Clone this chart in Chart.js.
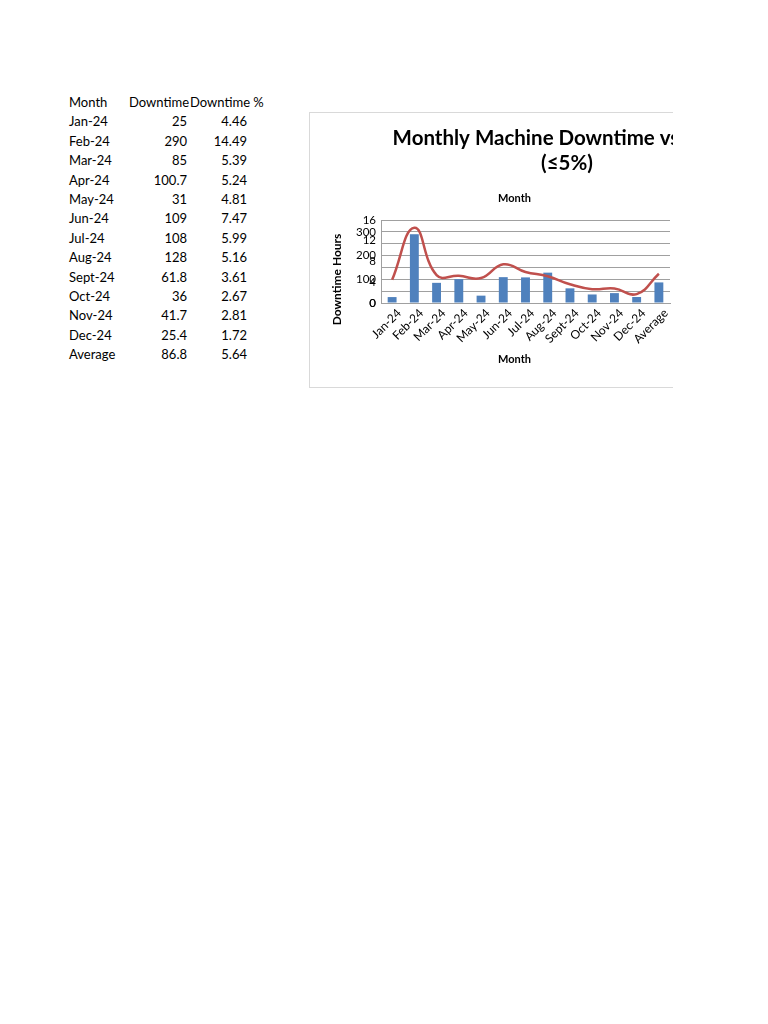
<!DOCTYPE html>
<html>
<head>
<meta charset="utf-8">
<script src="https://cdn.jsdelivr.net/npm/chart.js@4"></script>
<style>
  body { margin: 0; background: #fff; font-family: Lato, "Open Sans", sans-serif; }
  #sheet { position: absolute; left: 66px; top: 93px; border-collapse: collapse; table-layout: fixed;
           width: 184px; font-size: 13px; color: #000; }
  #sheet td { padding: 0; height: 19.4px; line-height: 19.4px; white-space: nowrap; overflow: visible; }
  #sheet td.c1 { padding-left: 3px; }
  #sheet td.c2 { text-align: right; padding-right: 1px; }
  #sheet td.c3 { text-align: right; padding-right: 3px; }
  #sheet td.h2 { padding-left: 3px; }
  #sheet td.h3 { padding-left: 2px; }
  #box { position: absolute; left: 309px; top: 112px; width: 363px; height: 274px;
         border: 1px solid #d9d9d9; border-right: none; overflow: hidden; background: #fff; }
  #chart { position: absolute; left: 0; top: 0; }
</style>
</head>
<body>
<table id="sheet"></table>
<div id="box"><canvas id="chart" width="514" height="274"></canvas></div>
<script>
// sheet / chart data
const months = ['Jan-24', 'Feb-24', 'Mar-24', 'Apr-24', 'May-24', 'Jun-24', 'Jul-24',
                'Aug-24', 'Sept-24', 'Oct-24', 'Nov-24', 'Dec-24', 'Average'];
const downtimeHours = [25, 290, 85, 100.7, 31, 109, 108, 128, 61.8, 36, 41.7, 25.4, 86.8];
const downtimePct = ['4.46', '14.49', '5.39', '5.24', '4.81', '7.47', '5.99',
                     '5.16', '3.61', '2.67', '2.81', '1.72', '5.64'];
const headers = ['Month', 'Downtime', 'Downtime %'];

// Build the spreadsheet table
function buildTable() {
    const table = document.getElementById('sheet');
    let html = '<colgroup><col style="width:60px"><col style="width:62px"><col style="width:62px"></colgroup>';
    html += `<tr><td class="c1">${headers[0]}</td><td class="h2">${headers[1]}</td><td class="h3">${headers[2]}</td></tr>`;
    months.forEach((m, i) => {
        html += `<tr><td class="c1">${m}</td><td class="c2">${downtimeHours[i]}</td><td class="c3">${downtimePct[i]}</td></tr>`;
    });
    table.innerHTML = html;
}
buildTable();

const font = 'Lato';
const gridColor = '#a0a0a0';
const tickFont = { family: font, size: 11.5 };
const axisTitleFont = { family: font, size: 11, weight: 'bold' };
// en spaces push the axis titles off-centre like the original
const pad = n => '\u2002'.repeat(n);

// width of the widest % label, so the mirrored labels line up with the hours labels
const measure = document.createElement('canvas').getContext('2d');
measure.font = `${tickFont.size}px ${font}`;
const widestPct = measure.measureText('16').width;

const ctx = document.getElementById('chart').getContext('2d');
new Chart(ctx, {
    data: {
        labels: months,
        datasets: [{
            type: 'line',
            label: 'Downtime %',
            data: downtimePct.map(Number),
            yAxisID: 'y1',
            borderColor: '#c0504d',
            borderWidth: 2.5,
            pointRadius: 0,
            tension: 0.45,
            fill: false,
            order: 0
        }, {
            type: 'bar',
            label: 'Downtime',
            data: downtimeHours,
            yAxisID: 'y',
            backgroundColor: '#4f81bd',
            categoryPercentage: 0.8,
            barPercentage: 0.5,
            order: 1
        }]
    },
    options: {
        responsive: false,
        animation: false,
        layout: { padding: { left: 0, right: 0, top: 0, bottom: 21 } },
        plugins: {
            legend: { display: false },
            tooltip: { enabled: false },
            title: {
                display: true,
                text: ['Monthly Machine Downtime vs Target', '(≤5%)'],
                color: '#000',
                font: { family: font, size: 20.5, weight: 'bold', lineHeight: 1.2 },
                padding: { top: 13, bottom: 0 }
            }
        },
        scales: {
            x: {
                position: 'bottom',
                grid: { display: false, drawTicks: false },
                border: { display: true, color: gridColor },
                ticks: {
                    autoSkip: false, minRotation: 45, maxRotation: 45,
                    color: '#000', padding: 3, labelOffset: 7,
                    font: { family: font, size: 12 }
                },
                title: {
                    display: true, text: 'Month' + pad(4), color: '#000',
                    font: axisTitleFont,
                    padding: { top: 0, bottom: 0 }
                },
                afterFit: scale => { scale.height = 63; }
            },
            x2: {
                type: 'category',
                position: 'top',
                grid: { display: false, drawTicks: false },
                border: { display: false },
                ticks: { display: false },
                title: {
                    display: true, text: 'Month' + pad(4), color: '#000',
                    font: axisTitleFont,
                    padding: { top: 16.6, bottom: 0 }
                },
                afterFit: scale => { scale.height = 44.8; }
            },
            y: {
                position: 'left',
                weight: 1,
                min: 0, max: 350,
                grid: { color: gridColor, drawTicks: false },
                border: { display: true, color: gridColor },
                ticks: {
                    stepSize: 50, autoSkip: false, padding: 5,
                    color: '#000', font: tickFont,
                    callback: v => (v % 100 === 0 ? v : '')
                },
                title: {
                    display: true, text: 'Downtime Hours' + pad(6), color: '#000',
                    font: { family: font, size: 12, weight: 'bold' },
                    padding: { top: 20, bottom: 0 }
                },
                afterFit: scale => { scale.width = 71; }
            },
            // % axis shares the left edge with the hours axis
            y1: {
                position: 'left',
                weight: 0,
                min: 0, max: 16,
                grid: { display: false, drawTicks: false },
                border: { display: false },
                ticks: {
                    stepSize: 4, autoSkip: false,
                    mirror: true, crossAlign: 'far', padding: -5 - widestPct,
                    color: '#000', font: tickFont
                },
                afterFit: scale => { scale.width = 0; }
            },
            // empty right-hand space of the (clipped) chart
            y2: {
                type: 'linear',
                position: 'right',
                min: 0, max: 1,
                grid: { display: false, drawTicks: false },
                border: { display: false },
                ticks: { display: false },
                afterFit: scale => { scale.width = 154; }
            }
        }
    }
});
</script>
</body>
</html>
